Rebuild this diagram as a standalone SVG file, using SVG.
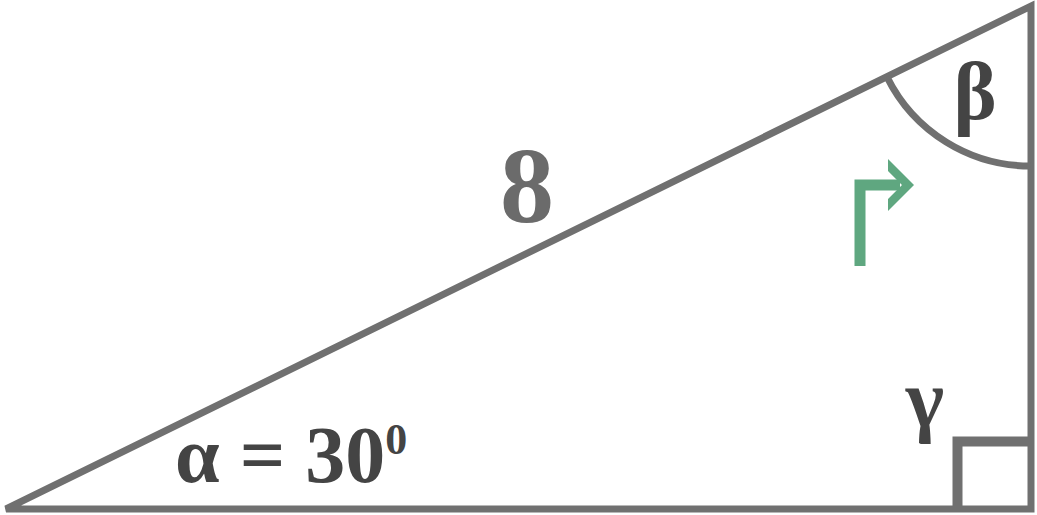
<svg xmlns="http://www.w3.org/2000/svg" width="1037" height="515" viewBox="0 0 1037 515">
<style>
.ln{fill:none;stroke:#707070;stroke-width:7;stroke-linejoin:miter}
.lb{font-family:"Liberation Serif","Times New Roman",serif;font-weight:bold;fill:#444444}
</style>
<rect width="1037" height="515" fill="#ffffff"/>
<g id="triangle">
<polygon class="ln" points="6,509 1031,509 1031,6"/>
</g>
<g id="angle-beta">
<path class="ln" d="M887,77 A160,160 0 0 0 1031,166"/>
<text class="lb" x="975" y="119" font-size="82" text-anchor="middle">β</text>
</g>
<g id="angle-gamma">
<path class="ln" d="M957.5,509 V441.5 H1031" style="stroke-width:10"/>
<text class="lb" x="925" y="426" font-size="82" text-anchor="middle">γ</text>
</g>
<g id="angle-alpha">
<text class="lb" x="175" y="482" font-size="80">α = 30<tspan font-size="44" dy="-28">0</tspan></text>
</g>
<g id="side-label">
<text class="lb" x="527" y="222" font-size="108" text-anchor="middle" style="fill:#6b6b6b">8</text>
</g>
<g id="connectors">
<path d="M860,266 V185 H900" fill="none" stroke="#5fa780" stroke-width="11"/>
<polygon points="888,159 914,185 888,211 888,199 902,185 888,171" fill="#5fa780"/>
</g>
</svg>
